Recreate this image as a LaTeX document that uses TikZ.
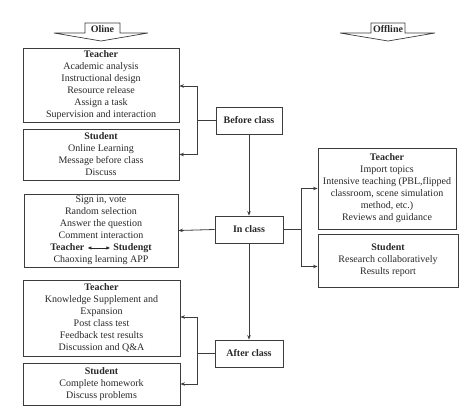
\documentclass[tikz,border=0pt]{standalone}
\usepackage{fontspec}
\setmainfont{Liberation Serif}
\usetikzlibrary{arrows.meta}
\definecolor{ln}{RGB}{60,60,60}
\definecolor{tx}{RGB}{40,40,40}
\tikzset{
  box/.style={draw=ln, line width=0.8pt, rectangle, inner sep=0pt, align=center, text=tx,
    font=\fontsize{10}{12}\selectfont},
  lbl/.style={box, font=\fontsize{10}{12}\selectfont\bfseries},
  conn/.style={draw=ln, line width=0.8pt},
  arr/.style={conn, -{Stealth[length=4.5pt,width=3.5pt]}},
  blockarrow/.style={draw=ln, line width=0.7pt, fill=white}
}
\newcommand{\dblarrow}{\tikz[baseline=-0.6ex, x=1pt, y=1pt]\draw[draw=tx, line width=0.9pt, {Latex[length=4pt,width=3.5pt]}-{Latex[length=4pt,width=3.5pt]}] (0,0) -- (23,0);}
\begin{document}
\begin{tikzpicture}[x=1pt,y=-1pt]
\useasboundingbox (0,0) rectangle (474,420);
% block arrows
\draw[blockarrow] (85,23) -- (120,23) -- (120,33) -- (148,33) -- (101,41) -- (54,33) -- (85,33) -- cycle;
\node[text=tx, font=\fontsize{10}{12}\selectfont\bfseries, inner sep=0pt] (oline) at (102.5,29.5) {Oline};
\draw[blockarrow] (371,23) -- (405,23) -- (405,33) -- (435,33) -- (388,41) -- (340,33) -- (371,33) -- cycle;
\node[text=tx, font=\fontsize{10}{12}\selectfont\bfseries, inner sep=0pt] (offline) at (388,29.5) {Offline};
% online boxes
\node[box, minimum width=156pt, minimum height=74pt] (t1) at (101,85)
  {\textbf{Teacher}\\Academic analysis\\Instructional design\\Resource release\\Assign a task\\Supervision and interaction};
\node[box, minimum width=156pt, minimum height=51pt] (s1) at (101,154.5)
  {\textbf{Student}\\Online Learning\\Message before class\\Discuss};
\node[box, minimum width=154pt, minimum height=73pt] (l2) at (101,230.5)
  {Sign in, vote\\Random selection\\Answer the question\\Comment interaction\\
   \textbf{Teacher} \dblarrow{} \textbf{Studengt}\\Chaoxing learning APP};
\node[box, minimum width=157pt, minimum height=76pt] (t3) at (101.5,318)
  {\textbf{Teacher}\\Knowledge Supplement and\\Expansion\\Post class test\\Feedback test results\\Discussion and Q\&A};
\node[box, minimum width=157pt, minimum height=42pt] (s3) at (101.5,384)
  {\textbf{Student}\\Complete homework\\Discuss problems};
% phase boxes
\node[lbl, minimum width=66pt, minimum height=27pt] (bc) at (249,120.5) {Before class};
\node[lbl, minimum width=68pt, minimum height=27pt] (ic) at (249,229.5) {In class};
\node[lbl, minimum width=68pt, minimum height=27pt] (ac) at (249,353.5) {After class};
% offline boxes
\node[box, minimum width=138pt, minimum height=81pt] (t2) at (387,188.5)
  {\textbf{Teacher}\\Import topics\\Intensive teaching (PBL,flipped\\classroom, scene simulation\\method, etc.)\\Reviews and guidance};
\node[box, minimum width=140pt, minimum height=53pt] (s2) at (388,260.5)
  {\textbf{Student}\\Research collaboratively\\Results report};
% junctions
\coordinate (j1) at (197,120.5);
\coordinate (j2) at (301,229.5);
\coordinate (j3) at (197,353.5);
% connectors
\draw[conn] (bc.west) -- (j1);
\draw[arr] (j1) |- ([yshift=-1pt]t1.east);
\draw[arr] (j1) |- (s1.east);
\draw[arr] (bc.south) -- (ic.north);
\draw[arr] (ic.west) -- (l2.east);
\draw[conn] (ic.east) -- (j2);
\draw[arr] (j2) |- (t2.west);
\draw[arr] (j2) |- ([yshift=-6pt]s2.west);
\draw[arr] (ic.south) -- (ac.north);
\draw[conn] (ac.west) -- (j3);
\draw[arr] (j3) |- ([yshift=1pt]t3.east);
\draw[arr] (j3) |- (s3.east);
\end{tikzpicture}
\end{document}
